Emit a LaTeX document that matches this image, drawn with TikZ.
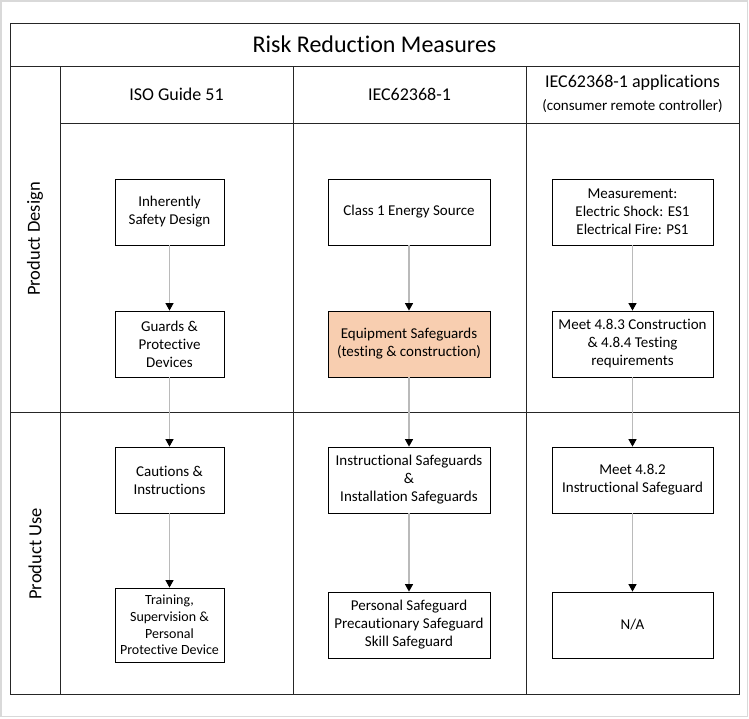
\documentclass[tikz,border=0pt]{standalone}
\usepackage{fontspec}
\setmainfont[Ligatures=NoCommon]{Carlito}
\usetikzlibrary{arrows.meta}
\definecolor{peach}{RGB}{248,206,176}
\tikzset{
	ebox/.style={draw=black, line width=0.8pt, fill=white, align=center, inner sep=0pt, font=\fontsize{15}{18}\selectfont},
	flow/.style={draw=black!27, line width=1.2pt, -{Triangle[color=black, width=8pt, length=7.5pt]}},
	grid/.style={draw=black!85, line width=1pt}
}

\begin{document}
\begin{tikzpicture}[x=1pt, y=-1pt]
			%%%%% START %%%%%
			\useasboundingbox (0,0) rectangle (749,718);
			\draw[black!15, line width=1.6pt] (0.8,0.8) rectangle (747.5,716.6);
			
			% table
			\draw[grid] (10,23) rectangle (739,694);
			\draw[grid] (10,66) -- (739,66);
			\draw[grid] (60,123) -- (739,123);
			\draw[grid] (10,412) -- (739,412);
			\draw[grid] (60,66) -- (60,694);
			\draw[grid] (293,66) -- (293,694);
			\draw[grid] (526,66) -- (526,694);
			
			\node[font=\fontsize{24}{28}\selectfont] (title) at (374.5,44.5) {Risk Reduction Measures};
			\node[font=\fontsize{18}{22}\selectfont] (iso) at (176.5,94.5) {ISO Guide 51};
			\node[font=\fontsize{18}{22}\selectfont] (iec) at (409.5,94.5) {IEC62368-1};
			\node[font=\fontsize{18}{22}\selectfont] (app) at (632.5,83) {IEC62368-1 applications};
			\node[font=\fontsize{15}{18}\selectfont] (appsub) at (632.5,106) {(consumer remote controller)};
			\node[font=\fontsize{18.5}{22}\selectfont, rotate=90] (design) at (35,239) {Product Design};
			\node[font=\fontsize{18.5}{22}\selectfont, rotate=90] (use) at (35,554) {Product Use};
			
			% ISO Guide 51
			\node[ebox, minimum width=109pt, minimum height=66pt] (inherent) at (169.5,212) {Inherently\\Safety Design};
			\node[ebox, minimum width=109pt, minimum height=66pt] (guards) at (169.5,344) {Guards \&\\Protective\\Devices};
			\node[ebox, minimum width=109pt, minimum height=66pt] (cautions) at (169.5,480) {Cautions \&\\Instructions};
			\node[ebox, minimum width=109pt, minimum height=74pt, font=\fontsize{14}{16.7}\selectfont] (training) at (169.5,625) {Training,\\Supervision \&\\Personal\\Protective Device};
			
			% IEC62368-1
			\node[ebox, minimum width=162pt, minimum height=66pt] (class) at (409,212) {Class 1 Energy Source};
			\node[ebox, minimum width=162pt, minimum height=66pt, fill=peach] (equip) at (409,344) {Equipment Safeguards\\(testing \& construction)};
			\node[ebox, minimum width=162pt, minimum height=66pt] (instr) at (409,480) {Instructional Safeguards\\\&\\Installation Safeguards};
			\node[ebox, minimum width=162pt, minimum height=66pt] (personal) at (409,625) {Personal Safeguard\\Precautionary Safeguard\\Skill Safeguard};
			
			% applications
			\node[ebox, minimum width=161pt, minimum height=66pt] (measure) at (632.5,212) {Measurement:\\Electric Shock: ES1\\Electrical Fire: PS1};
			\node[ebox, minimum width=161pt, minimum height=66pt] (meetA) at (632.5,344) {Meet 4.8.3 Construction\\\& 4.8.4 Testing\\requirements};
			\node[ebox, minimum width=161pt, minimum height=66pt] (meetB) at (632.5,480) {Meet 4.8.2\\Instructional Safeguard};
			\node[ebox, minimum width=161pt, minimum height=66pt] (na) at (632.5,625) {N/A};
			
			\draw[flow] (inherent) -- (guards);
			\draw[flow] (guards) -- (cautions);
			\draw[flow] (cautions) -- (training);
			\draw[flow] (class) -- (equip);
			\draw[flow] (equip) -- (instr);
			\draw[flow] (instr) -- (personal);
			\draw[flow] (measure) -- (meetA);
			\draw[flow] (meetA) -- (meetB);
			\draw[flow] (meetB) -- (na);
			%%%%% END %%%%%
		\end{tikzpicture}
\end{document}
